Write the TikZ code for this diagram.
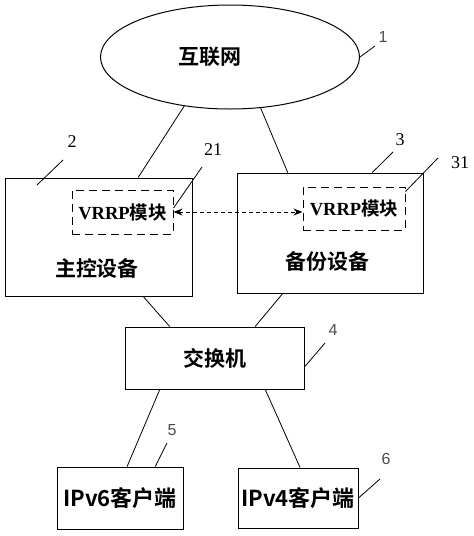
\documentclass[tikz,border=0pt]{standalone}
\usepackage{fontspec}
\setmainfont{Liberation Serif}
\newfontfamily\cjk{Noto Sans CJK SC Bold}
\newfontfamily\numsans{Liberation Sans}
\usepackage{tikz}
\usetikzlibrary{shapes.geometric,calc,arrows.meta}

\begin{document}
\begin{tikzpicture}[x=1pt,y=-1pt,>=Stealth,
		box/.style={draw,line width=1pt,inner sep=0pt},
		modbox/.style={draw,line width=1pt,dash pattern=on 8pt off 5pt,inner sep=0pt,font=\fontsize{18.5}{20}\selectfont},
		cn/.style={font=\cjk\fontsize{21}{25}\selectfont},
		numserif/.style={font=\fontsize{18}{20}\selectfont},
		numsans/.style={font=\numsans\fontsize{16}{18}\selectfont,text=black!70},
		leader/.style={line width=0.8pt}]
			\useasboundingbox (0,0) rectangle (474,536);

			% The internet
			\node[box,ellipse,minimum width=259pt,minimum height=104pt,
				label={[cn,xshift=-20pt]center:互联网}] (net) at (230,57) {};

			% The two devices with their VRRP modules
			\node[box,minimum width=187pt,minimum height=118pt] (main) at (98.5,237) {};
			\node[cn] (maintxt) at (97,268) {主控设备};
			\node[modbox,minimum width=101pt,minimum height=44pt] (mod21) at (122.5,212) {\textbf{VRRP}{\cjk 模块}};

			\node[box,minimum width=186pt,minimum height=120pt] (backup) at (330,233) {};
			\node[cn] (backuptxt) at (327,262) {备份设备};
			\node[modbox,minimum width=102pt,minimum height=43pt] (mod31) at (354,208.5) {\textbf{VRRP}{\cjk 模块}};

			% The switch and the clients
			\node[box,cn,minimum width=179pt,minimum height=62pt] (sw) at (214.5,358) {交换机};
			\node[box,cn,font=\cjk\fontsize{22}{25}\selectfont,minimum width=126pt,minimum height=62pt] (v6) at (120,498) {IPv6客户端};
			\node[box,cn,font=\cjk\fontsize{22}{25}\selectfont,minimum width=120pt,minimum height=60pt] (v4) at (298,498) {IPv4客户端};

			% The links
			\draw[line width=0.8pt] (net.227) -- ($(main.north west)!0.711!(main.north east)$);
			\draw[line width=0.8pt] (net.301) -- ($(backup.north west)!0.274!(backup.north east)$);
			\draw[line width=0.8pt] ($(main.south west)!0.738!(main.south east)$) -- ($(sw.north west)!0.251!(sw.north east)$);
			\draw[line width=0.8pt] ($(backup.south west)!0.247!(backup.south east)$) -- ($(sw.north west)!0.726!(sw.north east)$);
			\draw[line width=0.8pt] ($(sw.south west)!0.196!(sw.south east)$) -- ($(v6.north west)!0.556!(v6.north east)$);
			\draw[line width=0.8pt] ($(sw.south west)!0.782!(sw.south east)$) -- ($(v4.north west)!0.517!(v4.north east)$);
			\draw[<->,line width=1pt,dash pattern=on 4pt off 3pt,{Stealth[length=9pt,width=7pt]}-{Stealth[length=9pt,width=7pt]}]
				(mod21.east) -- (mod21.east -| mod31.west);

			% The reference numbers
			\node[numsans] (n1) at (383,37) {1};
			\node[numserif] (n2) at (72,142) {2};
			\node[numserif] (n21) at (213,150) {21};
			\node[numserif] (n3) at (400,140) {3};
			\node[numserif] (n31) at (460,163) {31};
			\node[numsans] (n4) at (333,330) {4};
			\node[numsans] (n5) at (172,430) {5};
			\node[numsans] (n6) at (386,459) {6};

			\coordinate (l1) at (375,46);
			\coordinate (l2) at (63,160);
			\coordinate (l21) at (202,167);
			\coordinate (l3) at (393,152);
			\coordinate (l31) at (438,158);
			\coordinate (l4) at (325,343);
			\coordinate (l5) at (167,443);
			\coordinate (l6) at (380,479);
			\draw[leader] (net.east) -- (l1);
			\draw[leader] (37,185) -- (l2);
			\draw[leader] ([yshift=4pt]mod21.east) -- (l21);
			\draw[leader] ($(backup.north west)!0.726!(backup.north east)$) -- (l3);
			\draw[leader] ([yshift=-5pt]mod31.north east) -- (l31);
			\draw[leader] ([yshift=-9pt]sw.east) -- (l4);
			\draw[leader] ($(v6.north west)!0.778!(v6.north east)$) -- (l5);
			\draw[leader] (v4.east) -- (l6);
		\end{tikzpicture}
\end{document}
